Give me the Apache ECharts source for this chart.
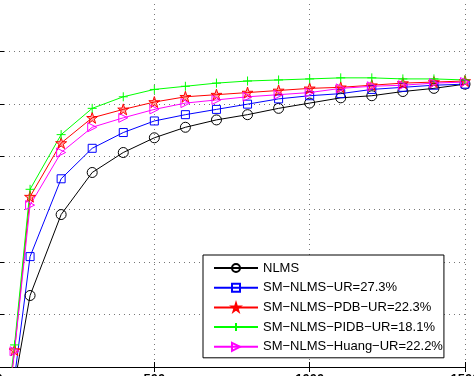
<!DOCTYPE html>
<html>
<head>
<meta charset="utf-8">
<script src="https://cdn.jsdelivr.net/npm/echarts@6/dist/echarts.min.js"></script>
<style>
html,body{margin:0;padding:0;background:#fff;}
#c{width:474px;height:376px;}
</style>
</head>
<body>
<div id="c"></div>
<script>
// ---- data ----
const xValues = [0, 50, 100, 200, 300, 400, 500, 600, 700, 800, 900, 1000, 1100, 1200, 1300, 1400, 1500];
const xTicks = [0, 500, 1000, 1500];
const seriesNames = [
  'NLMS',
  'SM\u2212NLMS\u2212UR=27.3%',
  'SM\u2212NLMS\u2212PDB\u2212UR=22.3%',
  'SM\u2212NLMS\u2212PIDB\u2212UR=18.1%',
  'SM\u2212NLMS\u2212Huang\u2212UR=22.2%'
];
const nlms      = [-10.0, -1.6, 6.8, 14.5, 18.5, 20.4, 21.8, 22.8, 23.5, 24.0, 24.6, 25.1, 25.6, 25.8, 26.2, 26.5, 26.9];
const smUR      = [-12.0, -1.0, 10.5, 17.9, 20.8, 22.3, 23.4, 24.0, 24.5, 25.0, 25.5, 25.8, 26.0, 26.4, 26.6, 26.8, 26.9];
const smPDB     = [-10.5, 1.6, 16.2, 21.3, 23.7, 24.5, 25.2, 25.7, 25.9, 26.1, 26.3, 26.5, 26.6, 26.8, 27.0, 27.1, 27.2];
const smPIDB    = [-10.5, 2.1, 16.9, 22.1, 24.6, 25.7, 26.4, 26.7, 27.0, 27.2, 27.3, 27.4, 27.5, 27.5, 27.4, 27.4, 27.3];
const smHuang   = [-11.0, 1.5, 15.4, 20.4, 22.8, 23.7, 24.5, 25.1, 25.4, 25.7, 25.9, 26.1, 26.5, 26.7, 26.8, 27.0, 27.1];
const yMin = 0, yMax = 35, yStep = 5;

// ---- styles ----
const colors = ['#000000', '#0000ff', '#ff0000', '#00ff00', '#ff00ff'];
const symbols = [
  'circle',
  'rect',
  'path://M50,0 L61.2,34.5 L97.6,34.5 L68.2,55.9 L79.4,90.5 L50,69.1 L20.6,90.5 L31.8,55.9 L2.4,34.5 L38.8,34.5 Z',
  'path://M0,50 L100,50 M50,0 L50,100',
  'path://M0,0 L100,50 L0,100 Z'
];
const sizes = [10, 8, 11, 9, 9];
const fills = ['rgba(0,0,0,0)', 'rgba(0,0,0,0)', 'rgba(255,0,0,0.35)', 'rgba(0,0,0,0)', 'rgba(0,0,0,0)'];
const allData = [nlms, smUR, smPDB, smPIDB, smHuang];

const FONT = 'Liberation Sans, Arial, Helvetica, sans-serif';
const dotted = { color: '#777', width: 1, type: [1, 4] };

const series = allData.map((vals, i) => ({
  name: seriesNames[i],
  type: 'line',
  data: xValues.map((x, k) => [x, vals[k]]),
  symbol: symbols[i],
  symbolSize: sizes[i],
  showAllSymbol: true,
  clip: true,
  animation: false,
  lineStyle: { color: colors[i], width: 1 },
  itemStyle: { color: fills[i], borderColor: colors[i], borderWidth: 1 },
  emphasis: { disabled: true }
}));

const chart = echarts.init(document.getElementById('c'), null, { renderer: 'canvas' });
chart.setOption({
  backgroundColor: '#ffffff',
  animation: false,
  grid: { left: -1, top: -1, right: 9, height: 368, containLabel: false, outerBoundsMode: 'none' },
  legend: {
    orient: 'vertical',
    left: 203,
    top: 255,
    padding: [6, 1, 4, 10],
    itemWidth: 44,
    itemHeight: 10,
    itemGap: 5.7,
    backgroundColor: '#ffffff',
    borderColor: '#000000',
    borderWidth: 1,
    borderRadius: 0,
    textStyle: { fontFamily: FONT, fontSize: 13, lineHeight: 14, color: '#000' },
    data: seriesNames
  },
  xAxis: [
    {
      type: 'value', min: xTicks[0], max: xTicks[xTicks.length - 1], interval: xTicks[1] - xTicks[0],
      axisLine: { show: true, lineStyle: { color: '#000', width: 1 } },
      axisTick: { show: true, inside: true, length: 5, lineStyle: { color: '#000' } },
      axisLabel: { show: true, margin: 6, fontFamily: FONT, fontSize: 13, fontWeight: 'bold', color: '#000',
                   showMinLabel: true, showMaxLabel: true, hideOverlap: false, formatter: v => String(v) },
      splitLine: { show: true, lineStyle: dotted }
    },
    {
      type: 'value', position: 'top', min: xTicks[0], max: xTicks[xTicks.length - 1], interval: xTicks[1] - xTicks[0],
      axisLine: { show: true, lineStyle: { color: '#000', width: 1 } },
      axisTick: { show: true, inside: true, length: 5, lineStyle: { color: '#000' } },
      axisLabel: { show: false },
      splitLine: { show: false }
    }
  ],
  yAxis: [
    {
      type: 'value', min: yMin, max: yMax, interval: yStep,
      axisLine: { show: true, lineStyle: { color: '#000', width: 1 } },
      axisTick: { show: true, inside: true, length: 5, lineStyle: { color: '#000' } },
      axisLabel: { show: false },
      splitLine: { show: true, lineStyle: dotted }
    },
    {
      type: 'value', position: 'right', min: yMin, max: yMax, interval: yStep,
      axisLine: { show: true, lineStyle: { color: '#000', width: 1 } },
      axisTick: { show: true, inside: true, length: 5, lineStyle: { color: '#000' } },
      axisLabel: { show: false },
      splitLine: { show: false }
    }
  ],
  series: series
});
</script>
</body>
</html>
